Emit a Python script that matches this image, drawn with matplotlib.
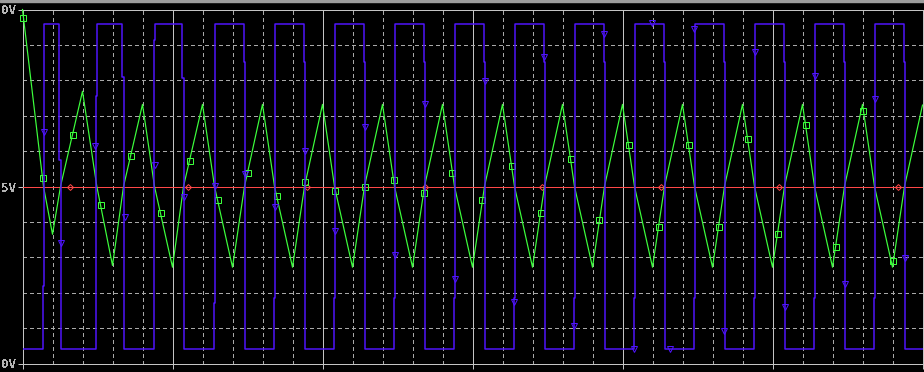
import matplotlib
matplotlib.use("Agg")
import matplotlib.pyplot as plt
import numpy as np
from matplotlib.patches import Rectangle

# time in grid divisions (30 across), voltages in V
green_t = [0, 0.7, 1, 1.267, 2, 2.478, 3, 3.367, 4, 4.4, 5, 5.367, 6, 6.4,
           7, 7.4, 8, 8.4, 9, 9.4, 10, 10.4, 11, 11.4, 12, 12.4, 13, 13.4,
           14, 14.4, 15, 15.4, 16, 16.4, 17, 17.4, 18, 18.4, 19, 19.4, 20, 20.4,
           21, 21.4, 22, 22.4, 23, 23.4, 24, 24.4, 25, 25.4, 26, 26.4, 27, 27.4,
           28, 28.4, 29, 29.4, 30]
green_v = [10.0, 5.0, 3.65, 5.0, 7.69, 5.0, 2.77, 5.0, 7.32, 5.0, 2.72, 5.0, 7.32, 5.0,
           2.72, 5.0, 7.32, 5.0, 2.72, 5.0, 7.32, 5.0, 2.72, 5.0, 7.32, 5.0, 2.72, 5.0,
           7.32, 5.0, 2.72, 5.0, 7.32, 5.0, 2.72, 5.0, 7.32, 5.0, 2.72, 5.0, 7.32, 5.0,
           2.72, 5.0, 7.32, 5.0, 2.72, 5.0, 7.32, 5.0, 2.72, 5.0, 7.32, 5.0, 2.72, 5.0,
           7.32, 5.0, 2.72, 5.0, 7.3]
green_mark_t = [0.033, 0.667, 1.667, 2.6, 3.6, 4.6, 5.567, 6.5, 7.5, 8.467, 9.433,
                10.433, 11.4, 12.367, 13.367, 14.333, 15.333, 16.3, 17.267, 18.267,
                19.233, 20.2, 21.2, 22.2, 23.2, 24.167, 25.167, 26.1, 27.1, 28.033, 29.033]

blue_low = 0.4
blue_high = 9.6
edge_t1 = [0.667, 1.233, 2.444, 3.333, 4.39, 5.333, 6.367, 7.367, 8.367, 9.367,
           10.367, 11.367, 12.367, 13.367, 14.367, 15.367, 16.367, 17.367, 18.367,
           19.367, 20.367, 21.367, 22.367, 23.367, 24.367, 25.367, 26.367, 27.367,
           28.367, 29.367]
edge_t2 = [0.7, 1.267, 2.478, 3.367, 4.42, 5.367, 6.4, 7.4, 8.4, 9.4,
           10.4, 11.4, 12.4, 13.4, 14.4, 15.4, 16.4, 17.4, 18.4,
           19.4, 20.4, 21.4, 22.4, 23.4, 24.4, 25.4, 26.4, 27.4,
           28.4, 29.4]
edge_mid = [2.2, 5.75, 7.57, 8.08, 9.14, 8.07, 1.71, 8.52, 1.84, 8.52,
            1.84, 8.52, 1.84, 8.52, 1.84, 8.52, 1.84, 8.52, 1.84,
            8.52, 1.84, 8.52, 1.84, 8.52, 1.84, 8.52, 1.84, 8.52,
            1.84, 8.52]
blue_mark_t = [0.7, 1.267, 2.433, 3.4, 4.4, 5.39, 6.4, 7.4, 8.4, 9.4, 10.4, 11.4,
               12.4, 13.4, 14.4, 15.4, 16.367, 17.367, 18.367, 19.367, 20.367,
               20.967, 21.567, 22.39, 23.39, 24.4, 25.4, 26.4, 27.4, 28.4, 29.4]
blue_mark_v = [6.54, 3.41, 6.15, 4.14, 5.60, 4.71, 5.02, 5.34, 4.41, 6.01, 3.73, 6.67,
               3.07, 7.34, 2.40, 7.99, 1.74, 8.66, 1.06, 9.32, 0.40,
               9.62, 0.40, 9.45, 0.92, 8.80, 1.60, 8.12, 2.25, 7.47, 2.97]

red_t = [0, 30]
red_v = [5.0, 5.0]
red_mark_t = [1.567, 5.533, 9.467, 13.4, 17.33, 21.27, 25.23, 29.17]

y_ticks = [0, 5, 10]
y_labels = ["0V", "5V", "0V"]

GREEN = "#3cff3c"
BLUE = "#5014ff"
RED = "#ff4848"
GRID = "#a8a8a8"
FRAME = "#c4c4c4"
PX = 0.72  # one pixel in points

plt.rcParams["text.antialiased"] = False
plt.rcParams["path.simplify"] = False

# square wave with the one-pixel steps on every edge
blue_t, blue_v = [0.0], [blue_low]
level = blue_low
for t1, mid, t2 in zip(edge_t1, edge_mid, edge_t2):
    new = blue_high if level == blue_low else blue_low
    blue_t += [t1, t1, t2, t2]
    blue_v += [level, mid, mid, new]
    level = new
blue_t.append(30)
blue_v.append(level)

fig = plt.figure(figsize=(9.24, 3.72), dpi=100, facecolor="black")
ax = fig.add_axes([22.5 / 924, 8.5 / 372, 900 / 924, 354 / 372])
ax.set_facecolor("black")
fig.patches.append(Rectangle((0, 1 - 2 / 372), 1, 2 / 372, transform=fig.transFigure,
                             color="#9c9c9c", zorder=0))

ax.set_xlim(0, 30)
ax.set_ylim(0, 10)
ax.set_xticks(np.arange(0, 31, 5))
ax.set_xticks(np.arange(0, 31, 1), minor=True)
ax.set_yticks(y_ticks)
ax.set_yticks(np.arange(0, 11, 1), minor=True)
ax.set_xticklabels([])
ax.set_yticklabels(y_labels, family="DejaVu Sans Mono", weight="bold",
                   fontsize=9, color="#b4b4b4")
ax.tick_params(which="major", length=5 * PX, width=PX, color=FRAME, pad=PX)
ax.tick_params(which="minor", length=0)
ax.grid(which="major", color=FRAME, lw=PX, ls="-", antialiased=False)
ax.grid(which="minor", color=GRID, lw=PX, ls=(0, (4, 4)), antialiased=False)
ax.set_axisbelow(True)
for s in ax.spines.values():
    s.set_color(FRAME)
    s.set_linewidth(PX)

ax.plot(red_t, red_v, color=RED, lw=PX, zorder=3)
ax.plot(red_mark_t, np.interp(red_mark_t, red_t, red_v), ls="none", marker="D",
        ms=3.0, mfc="none", mec=RED, mew=PX, zorder=3)

ax.plot(green_t, green_v, color=GREEN, lw=PX * 1.2, zorder=4, clip_on=False)
ax.plot(green_mark_t, np.interp(green_mark_t, green_t, green_v), ls="none", marker="s",
        ms=4.2, mfc="none", mec=GREEN, mew=PX, zorder=4, clip_on=False)

ax.plot(blue_t, blue_v, color=BLUE, lw=PX * 1.5, zorder=5, snap=True)
ax.plot(blue_mark_t, blue_mark_v, ls="none", marker="v", ms=4.0, mfc="none",
        mec=BLUE, mew=PX, zorder=5)

fig.savefig("out.png", dpi=100, facecolor="black")
